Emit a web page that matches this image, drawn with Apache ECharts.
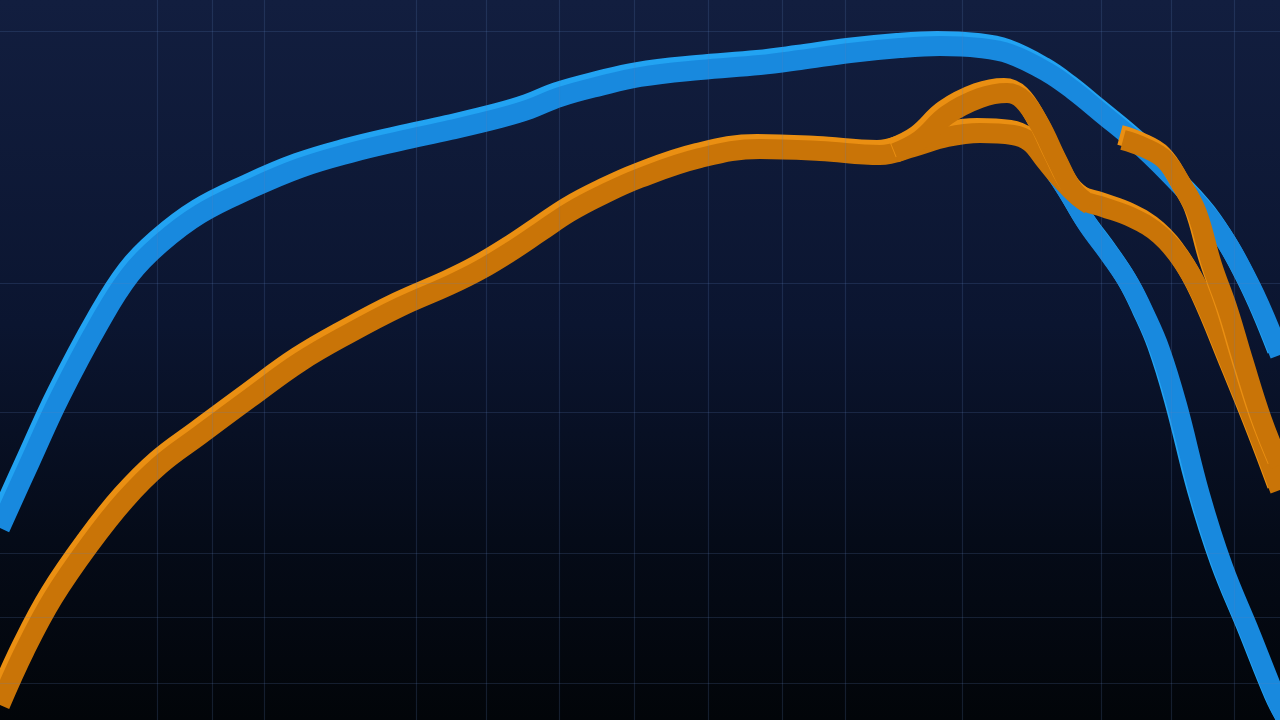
<!DOCTYPE html>
<html><head><meta charset="utf-8">
<style>html,body{margin:0;padding:0;background:#050a16;}#c{width:1280px;height:720px;}</style>
<script src="https://cdn.jsdelivr.net/npm/echarts@6/dist/echarts.min.js"></script>
</head><body><div id="c"></div>
<script>
// x: 0..128, y: 0..72
const blueMain = [[0,19.2],[3,25.8],[6,32.3],[10,39.8],[13,44.5],[16,47.6],[20,50.6],[25,53.1],[30,55.2],[35,56.7],[40,57.9],[45,59],[50,60.2],[53,61.1],[56,62.3],[60,63.4],[64,64.3],[70,65],[76,65.5],[80,66],[85,66.7],[90,67.2],[94,67.4],[98,67.2],[101,66.6],[104.7,64.8],[107.3,63],[110,60.8],[114.3,57.2],[118,53.5],[121.5,49.5],[125,43.5],[128,36.5]];
const blueBranch = [[105.5,54.8],[107,52.5],[108.8,49.5],[111,46.5],[113,43.5],[114.5,40.5],[116,37],[117.7,31.5],[120,22.5],[122.3,15.3],[125,8.7],[127.7,2],[129,-0.5]];
const orangeMain = [[0,1.5],[2.5,7],[5.3,12.2],[9,17.6],[12.5,22],[16,25.5],[20,28.5],[25,32.2],[30,35.8],[35,38.7],[40,41.3],[45,43.5],[48,45],[51,46.8],[54,48.8],[57,50.8],[60,52.4],[64,54.2],[70,56.2],[76,57.1],[82,56.9],[88,56.5],[91.3,57.3],[94.7,58.3],[98,58.7],[101.3,58.5],[103,57.8],[104.5,56],[106,54.2],[108.3,52],[110.3,51.3],[113.3,50.2],[116,48.5],[118.3,45.8],[120.3,42.2],[123.3,35],[126,28.3],[128,23]];
const orangeUpper = [[89.5,56.7],[92,58],[94.7,60.5],[98,62.2],[100.7,62.7],[102.3,62],[104,59.5],[105.7,56],[107.3,53],[109,51.5]];
const orangeRight = [[112.3,58],[114.3,57.3],[116.5,56],[118.3,53.3],[119.7,50.7],[121.2,45.5],[122.8,41],[124.3,36],[126.2,30],[128,25.5]];
const gridX = [15.7,21.2,26.4,41.6,48.6,55.9,63.4,70.8,78.2,84.5,96.2,110.1,117.1,123.4];
const gridY = [68.9,43.7,30.8,16.7,10.3,3.7];

const chart = echarts.init(document.getElementById('c'), null, {renderer:'canvas'});
function ribbon(data, base, top) {
  return {
    type:'line', data:data, smooth:0.4, symbol:'none', silent:true,
    lineStyle:{color:base, width:20, cap:'butt', join:'round',
      shadowColor:top, shadowBlur:0, shadowOffsetX:-3, shadowOffsetY:-5}
  };
}
const gridLines = [];
gridX.forEach(v => gridLines.push({xAxis:v}));
gridY.forEach(v => gridLines.push({yAxis:v}));
chart.setOption({
  animation:false,
  backgroundColor:{type:'linear',x:0,y:0,x2:0,y2:1,colorStops:[
    {offset:0,color:'#121e3f'},{offset:0.45,color:'#0b1530'},{offset:0.75,color:'#050b18'},{offset:1,color:'#020509'}]},
  grid:{left:0,right:0,top:0,bottom:0},
  xAxis:{type:'value',min:0,max:128,axisLine:{show:false},axisTick:{show:false},axisLabel:{show:false},splitLine:{show:false}},
  yAxis:{type:'value',min:0,max:72,axisLine:{show:false},axisTick:{show:false},axisLabel:{show:false},splitLine:{show:false}},
  series:[
    {type:'line',data:[],silent:true,markLine:{silent:true,symbol:['none','none'],label:{show:false},
      lineStyle:{type:'solid',width:1.2,color:'rgba(95,130,190,0.2)'},data:gridLines}},
    ribbon(blueBranch,'#1889de','#22a3f2'),
    ribbon(blueMain,'#1889de','#22a3f2'),
    ribbon(orangeMain,'#c97407','#ea8f12'),
    ribbon(orangeUpper,'#c97407','#ea8f12'),
    ribbon(orangeRight,'#c97407','#ea8f12')
  ]
});
</script></body></html>
